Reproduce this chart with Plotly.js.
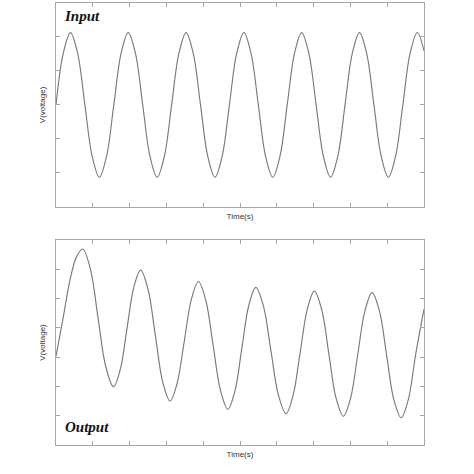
<!DOCTYPE html>
<html>
<head>
<meta charset="utf-8">
<script src="https://cdn.plot.ly/plotly-3.0.1.min.js"></script>
<style>html,body{margin:0;padding:0;background:#fff;}#chart{width:474px;height:474px;}</style>
</head>
<body>
<div id="chart"></div>
<script>
// Input signal
const inputTime = [0,0.196,0.393,0.589,0.785,0.982,1.178,1.374,1.571,1.767,1.963,2.160,2.356,2.553,2.749,2.945,3.142,3.338,3.534,3.731,3.927,4.123,4.320,4.516,4.712,4.909,5.105,5.301,5.498,5.694,5.890,6.087,6.283,6.480,6.676,6.872,7.069,7.265,7.461,7.658,7.854,8.050,8.247,8.443,8.639,8.836,9.032,9.228,9.425,9.621,9.817,10.0];
const inputVolt = [0,1.51,2.13,1.51,0,-1.51,-2.13,-1.51,0,1.51,2.13,1.51,0,-1.51,-2.13,-1.51,0,1.51,2.13,1.51,0,-1.51,-2.13,-1.51,0,1.51,2.13,1.51,0,-1.51,-2.13,-1.51,0,1.51,2.13,1.51,0,-1.51,-2.13,-1.51,0,1.51,2.13,1.51,0,-1.51,-2.13,-1.51,0,1.51,2.13,1.59];

// Output signal
const outputTime = [0,0.20,0.38,0.56,0.727,0.935,1.143,1.352,1.56,1.745,1.93,2.115,2.30,2.50,2.70,2.90,3.10,3.29,3.485,3.68,3.87,4.07,4.27,4.47,4.67,4.86,5.05,5.24,5.43,5.635,5.84,6.045,6.25,6.44,6.635,6.83,7.02,7.22,7.415,7.61,7.81,8.005,8.20,8.395,8.59,8.79,8.985,9.18,9.38,9.575,9.77,10.0];
const outputVolt = [-0.47,0.88,2.13,2.93,3.19,2.50,0.84,-0.82,-1.51,-0.93,0.48,1.89,2.47,1.82,0.24,-1.35,-2.00,-1.40,0.04,1.48,2.08,1.44,-0.10,-1.64,-2.28,-1.67,-0.20,1.27,1.88,1.25,-0.28,-1.80,-2.43,-1.82,-0.34,1.14,1.75,1.12,-0.39,-1.90,-2.52,-1.90,-0.41,1.08,1.70,1.07,-0.44,-1.95,-2.57,-1.94,-0.43,1.14];

const xTicks = [1,2,3,4,5,6,7,8,9];
const yTicksTop = [-3,-2,-1,0,1,2,3];
const yTicksBottom = [-2.5,-1.5,-0.5,0.5,1.5,2.5];

const curve = {color:'#7a7a7a', width:1.15, shape:'spline', smoothing:1};
const traces = [
  {x:inputTime, y:inputVolt, xaxis:'x', yaxis:'y', mode:'lines', line:curve, showlegend:false, hoverinfo:'skip'},
  {x:outputTime, y:outputVolt, xaxis:'x2', yaxis:'y2', mode:'lines', line:curve, showlegend:false, hoverinfo:'skip'}
];

const frame = '#a5a5a5';
const tfont = {family:'Liberation Sans, Arial, sans-serif', size:8, color:'#333'};
function xa(anchor){
  return {domain:[0,1], anchor:anchor, range:[0,10], tickvals:xTicks, ticks:'inside', ticklen:4, tickcolor:frame,
    showticklabels:false, showgrid:false, zeroline:false, showline:true, linecolor:frame, linewidth:1, mirror:'ticks',
    title:{text:'Time(s)', font:tfont, standoff:6}, automargin:false, fixedrange:true};
}
function ya(anchor, domain, range, tv){
  return {domain:domain, anchor:anchor, range:range, tickvals:tv, ticks:'inside', ticklen:4, tickcolor:frame,
    showticklabels:false, showgrid:false, zeroline:false, showline:true, linecolor:frame, linewidth:1, mirror:'ticks',
    title:{text:'V(voltage)', font:tfont, standoff:8}, automargin:false, fixedrange:true};
}

const labelFont = {family:'Liberation Serif, DejaVu Serif, serif', size:15, color:'#111', weight:'bold', style:'italic'};
const layout = {
  width:474, height:474,
  margin:{l:56, r:50, t:3, b:29},
  paper_bgcolor:'#fff', plot_bgcolor:'#fff',
  xaxis: xa('y'),
  yaxis: ya('x', [0.539,1], [-3,3], yTicksTop),
  xaxis2: xa('y2'),
  yaxis2: ya('x2', [0,0.464], [-3.5,3.5], yTicksBottom),
  annotations:[
    {text:'<b><i>Input</i></b>', xref:'x domain', yref:'y domain', x:0.015, y:0.935, xanchor:'left', yanchor:'middle', showarrow:false, font:labelFont},
    {text:'<b><i>Output</i></b>', xref:'x2 domain', yref:'y2 domain', x:0.018, y:0.09, xanchor:'left', yanchor:'middle', showarrow:false, font:labelFont}
  ]
};
Plotly.newPlot('chart', traces, layout, {staticPlot:true, displayModeBar:false});
</script>
</body>
</html>
